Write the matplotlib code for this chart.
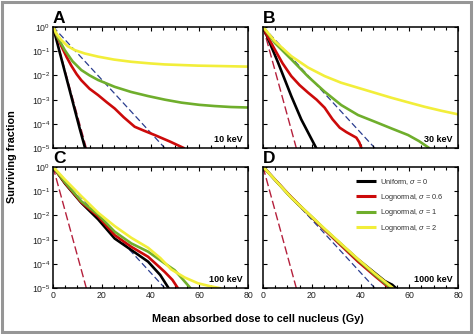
import matplotlib
matplotlib.use("Agg")
import matplotlib.pyplot as plt
from matplotlib.patches import Rectangle
from matplotlib.ticker import FixedLocator, NullLocator, MultipleLocator
import numpy as np

plt.rcParams['font.family'] = ['Liberation Sans', 'DejaVu Sans']
plt.rcParams['mathtext.fontset'] = 'custom'
plt.rcParams['mathtext.rm'] = 'Liberation Sans'
plt.rcParams['mathtext.it'] = 'Liberation Sans:italic'

# ---------------- data (dose in Gy, log10 surviving fraction) ----------------
energies = ["10 keV", "30 keV", "100 keV", "1000 keV"]
panel_letters = ["A", "B", "C", "D"]
series_names = ["Uniform, $\\sigma$ = 0", "Lognormal, $\\sigma$ = 0.6",
                "Lognormal, $\\sigma$ = 1", "Lognormal, $\\sigma$ = 2"]

# reference dashed lines (same in all panels)
blue_dash_dose = [0, 46]
blue_dash_log = [0, -5]
red_dash_dose = [0, 13.7]
red_dash_log = [0, -5]

# Panel A (10 keV)
a_black_dose = [0, 11, 13.2]
a_black_log = [0, -4.2, -5]
a_red_dose = [0, 1.5, 3.4, 5.6, 7.5, 9.7, 11.6, 15, 18.5, 22, 25.3, 29, 33.5, 37.5, 41.7, 48, 54]
a_red_log = [0, -0.35, -0.79, -1.25, -1.6, -1.95, -2.2, -2.55, -2.81, -3.1, -3.36, -3.72, -4.11, -4.28, -4.45, -4.72, -5]
a_green_dose = [0, 2, 4.8, 8, 11.6, 15, 18.5, 25.3, 32, 39, 46, 52.7, 60, 66.3, 73, 80]
a_green_log = [0, -0.45, -0.96, -1.42, -1.78, -2.0, -2.19, -2.47, -2.68, -2.85, -3.0, -3.12, -3.21, -3.26, -3.3, -3.32]
a_yellow_dose = [0, 1.5, 3.4, 6, 8.9, 13, 18.5, 25, 32, 40, 45.8, 59.5, 70, 80]
a_yellow_log = [0, -0.3, -0.55, -0.8, -0.96, -1.1, -1.23, -1.35, -1.44, -1.51, -1.55, -1.6, -1.62, -1.64]

# Panel B (30 keV)
b_black_dose = [0, 6.2, 11.6, 15.7, 21.9]
b_black_log = [0, -1.48, -2.85, -3.81, -5]
b_red_dose = [0, 2, 4.8, 8, 11.6, 15, 18.5, 22, 25.3, 28.5, 31.5, 34.2, 38.3, 39.5, 40.4]
b_red_log = [0, -0.42, -0.93, -1.5, -2.03, -2.4, -2.71, -3.0, -3.33, -3.8, -4.15, -4.33, -4.56, -4.75, -5]
b_green_dose = [0, 4.8, 11.6, 18.5, 25.3, 32.1, 39, 45.8, 52.7, 59.5, 64, 68.4]
b_green_log = [0, -0.66, -1.34, -2.05, -2.67, -3.22, -3.63, -3.9, -4.18, -4.45, -4.7, -5]
b_yellow_dose = [0, 4.8, 11.6, 18.5, 25.3, 32, 39, 46, 52.7, 60, 66.3, 73, 80]
b_yellow_log = [0, -0.59, -1.21, -1.68, -2.03, -2.3, -2.51, -2.72, -2.92, -3.12, -3.29, -3.45, -3.6]

# Panel C (100 keV)
c_black_dose = [0, 5, 11.6, 18.5, 25.3, 32.1, 39, 44, 47.5]
c_black_log = [0, -0.7, -1.48, -2.16, -2.95, -3.42, -3.9, -4.45, -5]
c_red_dose = [0, 5, 11.6, 18.5, 25.3, 32.1, 39, 45.8, 49, 51.3]
c_red_log = [0, -0.68, -1.46, -2.04, -2.81, -3.29, -3.7, -4.32, -4.65, -5]
c_green_dose = [0, 5, 11.6, 18.5, 25.3, 32.1, 39, 45.8, 49.9, 53, 56.5]
c_green_log = [0, -0.65, -1.42, -1.97, -2.67, -3.15, -3.49, -3.97, -4.25, -4.6, -5]
c_yellow_dose = [0, 4.8, 11.6, 18.5, 25.3, 32.1, 39, 44, 48.5, 54, 59.5, 64, 69]
c_yellow_log = [0, -0.52, -1.21, -1.89, -2.44, -2.92, -3.33, -3.75, -4.22, -4.55, -4.79, -4.9, -5]

# Panel D (1000 keV)
d_black_dose = [0, 11.6, 25.3, 39, 50, 53, 54.7]
d_black_log = [0, -1.27, -2.58, -3.81, -4.7, -4.85, -5]
d_red_dose = [0, 11.6, 25.3, 39, 46, 52]
d_red_log = [0, -1.25, -2.6, -3.9, -4.5, -5]
d_green_dose = [0, 11.6, 25.3, 39, 46, 52.7]
d_green_log = [0, -1.27, -2.57, -3.83, -4.45, -5]
d_yellow_dose = [0, 11.6, 25.3, 39, 46, 53.5]
d_yellow_log = [0, -1.27, -2.55, -3.8, -4.4, -5]

y_tick_exps = [0, -1, -2, -3, -4, -5]
x_ticks = [0, 20, 40, 60, 80]

panels = [
    [(a_black_dose, a_black_log), (a_red_dose, a_red_log), (a_green_dose, a_green_log), (a_yellow_dose, a_yellow_log)],
    [(b_black_dose, b_black_log), (b_red_dose, b_red_log), (b_green_dose, b_green_log), (b_yellow_dose, b_yellow_log)],
    [(c_black_dose, c_black_log), (c_red_dose, c_red_log), (c_green_dose, c_green_log), (c_yellow_dose, c_yellow_log)],
    [(d_black_dose, d_black_log), (d_red_dose, d_red_log), (d_green_dose, d_green_log), (d_yellow_dose, d_yellow_log)],
]
colors = ["#000000", "#cc0a0a", "#6fae2c", "#f2ee3a"]

# ---------------- figure ----------------
W, H = 474, 334
fig = plt.figure(figsize=(W / 100, H / 100), dpi=100)

def frac(l, t, r, b):
    return [l / W, 1 - b / H, (r - l) / W, (b - t) / H]

rects = [frac(53, 26.7, 248, 148.4), frac(263, 26.7, 458, 148.4),
         frac(53, 166.7, 248, 288.4), frac(263, 166.7, 458, 288.4)]

for i, rect in enumerate(rects):
    ax = fig.add_axes(rect)
    ax.plot(blue_dash_dose, [10 ** v for v in blue_dash_log], color="#2a3d8f",
            lw=0.9, dashes=(5, 2.5), zorder=1)
    ax.plot(red_dash_dose, [10 ** v for v in red_dash_log], color="#b5203c",
            lw=1.0, dashes=(6, 2.5), zorder=1)
    handles = []
    for (dose, lg), col, name in zip(panels[i], colors, series_names):
        h, = ax.plot(dose, [10 ** v for v in lg], color=col, lw=1.9,
                     solid_capstyle='butt', zorder=2, label=name)
        handles.append(h)
    ax.set_yscale('log')
    ax.set_xlim(0, 80)
    ax.set_ylim(1e-5, 1)
    ax.yaxis.set_major_locator(FixedLocator([10.0 ** e for e in y_tick_exps]))
    ax.yaxis.set_minor_locator(NullLocator())
    ax.xaxis.set_major_locator(FixedLocator(x_ticks))
    ax.xaxis.set_minor_locator(MultipleLocator(5))
    ax.tick_params(which='both', direction='in', top=True, right=True,
                   length=2.5, width=0.8, labelsize=6.3, pad=2, colors='black',
                   labelcolor='#222222')
    ax.tick_params(which='major', length=3)
    for s in ax.spines.values():
        s.set_linewidth(1.1)
    if i in (0, 2):
        ax.set_yticklabels(["$10^{%d}$" % e for e in y_tick_exps])
    else:
        ax.set_yticklabels([])
    if i in (2, 3):
        ax.set_xticklabels([str(t) for t in x_ticks])
    else:
        ax.set_xticklabels([])
    ax.text(0.974, 0.05, energies[i], transform=ax.transAxes, ha='right',
            va='baseline', fontsize=6.5, fontweight='bold', zorder=5)
    ax.text(0.0, 1.03, panel_letters[i], transform=ax.transAxes, ha='left',
            va='baseline', fontsize=12.5, fontweight='bold')
    if i == 3:
        leg = ax.legend(handles=handles, loc='upper left',
                        bbox_to_anchor=(0.475, 0.915), frameon=False,
                        fontsize=5.3, handlelength=2.75, handletextpad=0.55,
                        labelspacing=0.62, borderpad=0, borderaxespad=0)
        for t in leg.get_texts():
            t.set_color('#333333')
        for lh in leg.get_lines():
            lh.set_linewidth(2.2)

fig.text(0.026, 0.53, "Surviving fraction", rotation=90, ha='center',
         va='center', fontsize=7.8, fontweight='bold')
fig.text(0.545, 0.036, "Mean absorbed dose to cell nucleus (Gy)", ha='center',
         va='baseline', fontsize=7.8, fontweight='bold')

fig.patches.append(Rectangle((1.5 / W, 1 - 331.5 / H), 469 / W, 330 / H,
                             transform=fig.transFigure, fill=False,
                             edgecolor='#969696', lw=2.2, zorder=0))

fig.savefig("out.png", dpi=100)
